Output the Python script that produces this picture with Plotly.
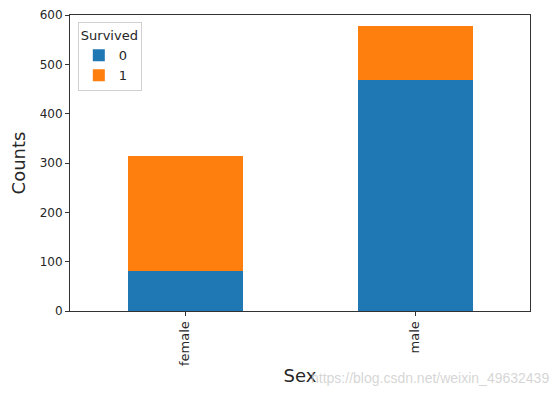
import plotly.graph_objects as go

categories = ["female", "male"]
survived_0 = [81, 468]
survived_1 = [233, 109]
y_ticks = [0, 100, 200, 300, 400, 500, 600]

fig = go.Figure()
fig.add_trace(go.Bar(x=categories, y=survived_0, name="0", marker=dict(color="#1f77b4", line=dict(width=0)), width=0.5))
fig.add_trace(go.Bar(x=categories, y=survived_1, name="1", marker=dict(color="#ff7f0e", line=dict(width=0)), width=0.5))

fig.update_layout(
    width=551, height=389,
    barmode="stack",
    plot_bgcolor="white", paper_bgcolor="white",
    margin=dict(l=62, r=29, t=7, b=86, autoexpand=False),
    font=dict(family="DejaVu Sans", size=13, color="#262626"),
    showlegend=True,
    legend=dict(
        title=dict(text="Survived", font=dict(size=13)),
        x=0.017, y=0.975, xanchor="left", yanchor="top",
        bgcolor="white", bordercolor="#d0d0d0", borderwidth=1,
        font=dict(size=13), traceorder="normal",
    ),
    xaxis=dict(
        range=[-0.5, 1.5], tickangle=-90, tickfont=dict(size=13),
        showline=True, linecolor="#333", linewidth=1, mirror=True,
        ticks="outside", ticklen=4, tickcolor="#333", showgrid=False,
        title=dict(text="Sex", font=dict(size=18), standoff=4),
    ),
    yaxis=dict(
        range=[0, 600], tickvals=y_ticks, tickfont=dict(size=12),
        showline=True, linecolor="#333", linewidth=1, mirror=True,
        ticks="outside", ticklen=4, tickcolor="#333", showgrid=False, zeroline=False,
        title=dict(text="Counts", font=dict(size=18), standoff=9),
    ),
)
fig.add_annotation(
    text="https://blog.csdn.net/weixin_49632439", xref="paper", yref="paper",
    x=1.046, y=-0.226, xanchor="right", yanchor="middle", showarrow=False,
    font=dict(family="Liberation Sans", size=14, color="rgba(200,200,200,0.75)"),
)
fig.write_html("out.html")
